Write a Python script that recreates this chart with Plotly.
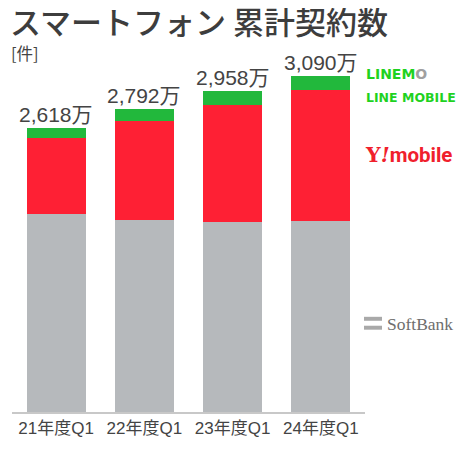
import plotly.graph_objects as go

# data (万件)
quarters = ['21年度Q1', '22年度Q1', '23年度Q1', '24年度Q1']
softbank = [1826, 1765, 1746, 1758]
ymobile = [692, 911, 1082, 1204]
line_brands = [100, 116, 130, 128]
totals = [2618, 2792, 2958, 3090]
total_labels = ['2,618万', '2,792万', '2,958万', '3,090万']

# the page body has an 8px margin, so work in window pixels minus 8
OFF = 8
W, H = 474 - 2 * OFF, 450 - 2 * OFF
L, R, T, B = 12 - OFF, 365 - OFF, 60 - OFF, 415 - OFF

def px_x(p):
    return (p - OFF - L) / (R - L)

def px_y(p):
    return (B - (p - OFF)) / (B - T)

jp = 'Noto Sans CJK JP'
num = 'Liberation Sans, Noto Sans CJK JP'

fig = go.Figure()
fig.add_trace(go.Bar(x=quarters, y=softbank, name='SoftBank',
                     marker=dict(color='#b6b9bc', line_width=0), width=0.67))
fig.add_trace(go.Bar(x=quarters, y=ymobile, name='Y!mobile',
                     marker=dict(color='#fe2034', line_width=0), width=0.67))
fig.add_trace(go.Bar(x=quarters, y=line_brands, name='LINEMO / LINE MOBILE',
                     marker=dict(color='#22b83c', line_width=0), width=0.67))

# total labels above bars
for q, t, lbl in zip(quarters, totals, total_labels):
    fig.add_annotation(x=q, y=t, text=lbl, showarrow=False, yanchor='bottom',
                       yshift=0, font=dict(family=num, size=21, color='#444444'))

# unit
fig.add_annotation(xref='paper', yref='paper', x=px_x(9), y=px_y(53),
                   xanchor='left', yanchor='middle', text='[件]', showarrow=False,
                   font=dict(family=jp, size=16.5, color='#444444'))

# brand labels on the right
fig.add_annotation(xref='paper', yref='paper', x=px_x(364), y=px_y(74),
                   xanchor='left', yanchor='middle', showarrow=False,
                   text='<b>LINEM<span style="color:#a0a0a0">O</span></b>',
                   font=dict(family='DejaVu Sans', size=14, color='#1fd21f'))
fig.add_annotation(xref='paper', yref='paper', x=px_x(364), y=px_y(98),
                   xanchor='left', yanchor='middle', showarrow=False,
                   text='<b>LINE MOBILE</b>',
                   font=dict(family='DejaVu Sans', size=12.5, color='#1fd21f'))
fig.add_annotation(xref='paper', yref='paper', x=px_x(363), y=px_y(156),
                   xanchor='left', yanchor='middle', showarrow=False,
                   text='<span style="font-family:DejaVu Serif"><b>Y</b><i><b>!</b></i></span><b>mobile</b>',
                   font=dict(family='Roboto', size=20.5, color='#f0202c'))
fig.add_annotation(xref='paper', yref='paper', x=px_x(385), y=px_y(326),
                   xanchor='left', yanchor='middle', showarrow=False,
                   text='SoftBank',
                   font=dict(family='Liberation Serif', size=17.5, color='#6e6e6e'))
# SoftBank mark (two bars)
for top in (319, 328):
    fig.add_shape(type='rect', xref='paper', yref='paper',
                  x0=px_x(364), x1=px_x(382), y0=px_y(top + 4), y1=px_y(top),
                  fillcolor='#a9a9a9', line_width=0)

fig.update_layout(
    width=W, height=H,
    barmode='stack',
    showlegend=False,
    plot_bgcolor='white',
    paper_bgcolor='white',
    margin=dict(l=L, r=W - R, t=T, b=H - B),
    title=dict(text='スマートフォン 累計契約数', x=(10 - OFF) / W, xanchor='left',
               y=1 - (23 - OFF) / H, yanchor='middle', xref='container',
               font=dict(family=jp, size=31, color='#3d3d3d', weight=500)),
)
fig.update_xaxes(showline=True, linecolor='#c8c8c8', linewidth=2, ticks='',
                 tickfont=dict(family=num, size=17, color='#444444'),
                 showgrid=False, zeroline=False)
fig.update_yaxes(visible=False, range=[0, 3240], showgrid=False)

fig.write_html("out.html")
